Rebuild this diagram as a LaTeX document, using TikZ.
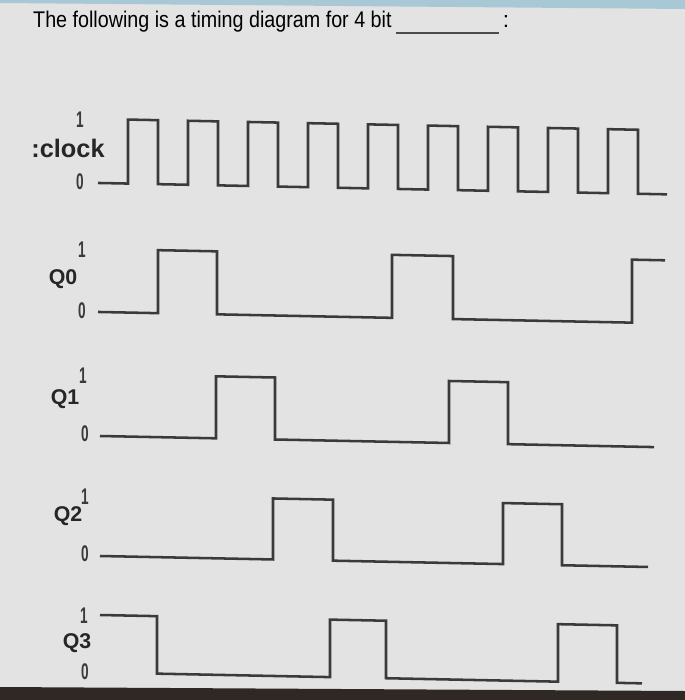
\documentclass[tikz,border=0pt]{standalone}
\usepackage{fontspec}
\setmainfont{Liberation Sans}
\definecolor{bgray}{HTML}{E3E3E3}
\definecolor{wavec}{HTML}{3A3A3A}
\definecolor{screenblue}{HTML}{A9C8D6}
\definecolor{deskdark}{HTML}{2F2824}
\begin{document}
\begin{tikzpicture}[x=0.75pt,y=-0.75pt,
  wave/.style={draw=wavec,line width=1.9pt,line join=miter},
  sig/.style={font=\bfseries\fontsize{16}{16}\selectfont,text=black!85,inner sep=0pt},
  lvl/.style={font=\bfseries\fontsize{17}{17}\selectfont,xscale=0.6,text=wavec,inner sep=0pt}]
\fill[bgray] (0,0) rectangle (685,700);
\fill[screenblue] (0,0) -- (685,0) -- (685,9) -- (0,3) -- cycle;
\fill[deskdark] (0,687) -- (685,691) -- (685,700) -- (0,700) -- cycle;
\useasboundingbox (0,0) rectangle (685,700);

\node[anchor=base west,xscale=0.87,font=\fontsize{17}{20}\selectfont,inner sep=0pt] (title) at (33,27) {The following is a timing diagram for 4 bit};
\draw[line width=0.8pt,black!70] (396,33) -- (499,33);
\node[anchor=base,font=\fontsize{17}{20}\selectfont,inner sep=0pt] (colon) at (506,27) {:};

\node[sig,font=\bfseries\fontsize{19}{19}\selectfont] (clk) at (68,148) {:clock};
\node[lvl] (clkhi) at (80,120) {1};
\node[lvl] (clklo) at (80,182) {0};

\node[sig] (q0) at (63,279) {Q0};
\node[lvl] (q0hi) at (82,250) {1};
\node[lvl] (q0lo) at (82,311) {0};

\node[sig] (q1) at (65,399) {Q1};
\node[lvl] (q1hi) at (83,376) {1};
\node[lvl] (q1lo) at (85,434) {0};

\node[sig] (q2) at (68,516) {Q2};
\node[lvl] (q2hi) at (85,497) {1};
\node[lvl] (q2lo) at (85,554) {0};

\node[sig] (q3) at (77,643) {Q3};
\node[lvl] (q3hi) at (84,616) {1};
\node[lvl] (q3lo) at (85,672) {0};

% waveforms, slanted a little like the photo
\begin{scope}[yslant=-0.02]
\draw[wave] (98,181) \foreach \t in {128,188,...,608} { -| (\t,117) -| (\t+30,181) } -- (667,181);
\draw[wave] (98,310) -| (158,247) -| (217,310) -| (392,247) -| (453,310) -| (632,247) -- (665,247);
\draw[wave] (100,434) -| (216,372) -| (275,434) -| (449,372) -| (508,434) -- (654,434);
\draw[wave] (100,554) -| (273,493) -| (333,554) -| (503,493) -| (562,554) -- (648,554);
\draw[wave] (100,613) -| (157,670.5) -| (330,613) -| (386,670.5) -| (558,613) -| (617,670.5) -- (642,670.5);
\end{scope}
\end{tikzpicture}
\end{document}
